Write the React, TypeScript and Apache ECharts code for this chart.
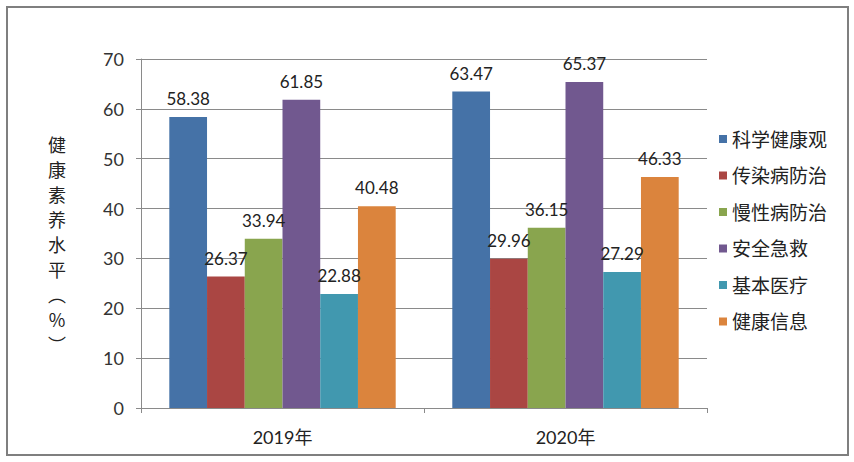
import React, { useEffect, useRef } from "react";
import * as echarts from "echarts";

const years = ["2019年", "2020年"];
const seriesNames = ["科学健康观", "传染病防治", "慢性病防治", "安全急救", "基本医疗", "健康信息"];
const values2019 = [58.38, 26.37, 33.94, 61.85, 22.88, 40.48];
const values2020 = [63.47, 29.96, 36.15, 65.37, 27.29, 46.33];
const colors = ["#4572A7", "#AA4643", "#89A54E", "#71588F", "#4198AF", "#DB843D"];
const yAxisTitle = ["健", "康", "素", "养", "水", "平", "︵", "%", "︶"];

const FONT = "Lato, 'Noto Sans CJK SC', sans-serif";

export default function App() {
  const ref = useRef<HTMLDivElement>(null);

  useEffect(() => {
    if (!ref.current) return;
    const chart = echarts.init(ref.current, undefined, { renderer: "svg" });

    const series = seriesNames.map((name, i) => ({
      name,
      type: "bar" as const,
      data: [values2019[i], values2020[i]],
      barGap: "0%",
      barCategoryGap: "20%",
      itemStyle: { color: colors[i] },
      label: {
        show: true,
        position: "top" as const,
        distance: 10,
        color: "#222",
        fontSize: 17,
        fontFamily: FONT,
        formatter: (p: any) => p.value.toFixed(2),
      },
    }));

    chart.setOption({
      animation: false,
      backgroundColor: "#fff",
      grid: { left: 141, right: 147, top: 59, bottom: 54 },
      legend: {
        orient: "vertical",
        left: 714,
        top: 124,
        itemWidth: 8,
        itemHeight: 8,
        itemGap: 16.5,
        icon: "rect",
        data: seriesNames,
        textStyle: { fontSize: 19, lineHeight: 20, color: "#222", fontFamily: FONT },
      },
      xAxis: {
        type: "category",
        data: years,
        axisLine: { lineStyle: { color: "#8a8a8a", width: 1 } },
        axisTick: { show: true, length: 5, lineStyle: { color: "#8a8a8a" } },
        axisLabel: { margin: 20, fontSize: 18, color: "#222", fontFamily: FONT },
      },
      yAxis: {
        type: "value",
        min: 0,
        max: 70,
        interval: 10,
        axisLine: { show: true, lineStyle: { color: "#8a8a8a", width: 1 } },
        axisTick: { show: true, length: 5, lineStyle: { color: "#8a8a8a" } },
        splitLine: { lineStyle: { color: "#8a8a8a", width: 1 } },
        axisLabel: { margin: 17, fontSize: 18, color: "#333", fontFamily: FONT },
      },
      graphic: [
        {
          type: "rect",
          shape: { x: 7, y: 7, width: 841, height: 448 },
          style: { fill: "none", stroke: "#7f7f7f", lineWidth: 2 },
          silent: true,
        },
        {
          type: "text",
          x: 57,
          y: 131,
          style: {
            text: yAxisTitle.join("\n"),
            fontSize: 18,
            lineHeight: 25,
            fill: "#222",
            fontFamily: "'Noto Sans CJK SC', sans-serif",
            align: "center",
          },
        },
      ],
      series,
    });

    return () => chart.dispose();
  }, []);

  return (
    <div
      ref={ref}
      style={{ position: "fixed", left: 0, top: 0, width: 854, height: 462 }}
    />
  );
}
